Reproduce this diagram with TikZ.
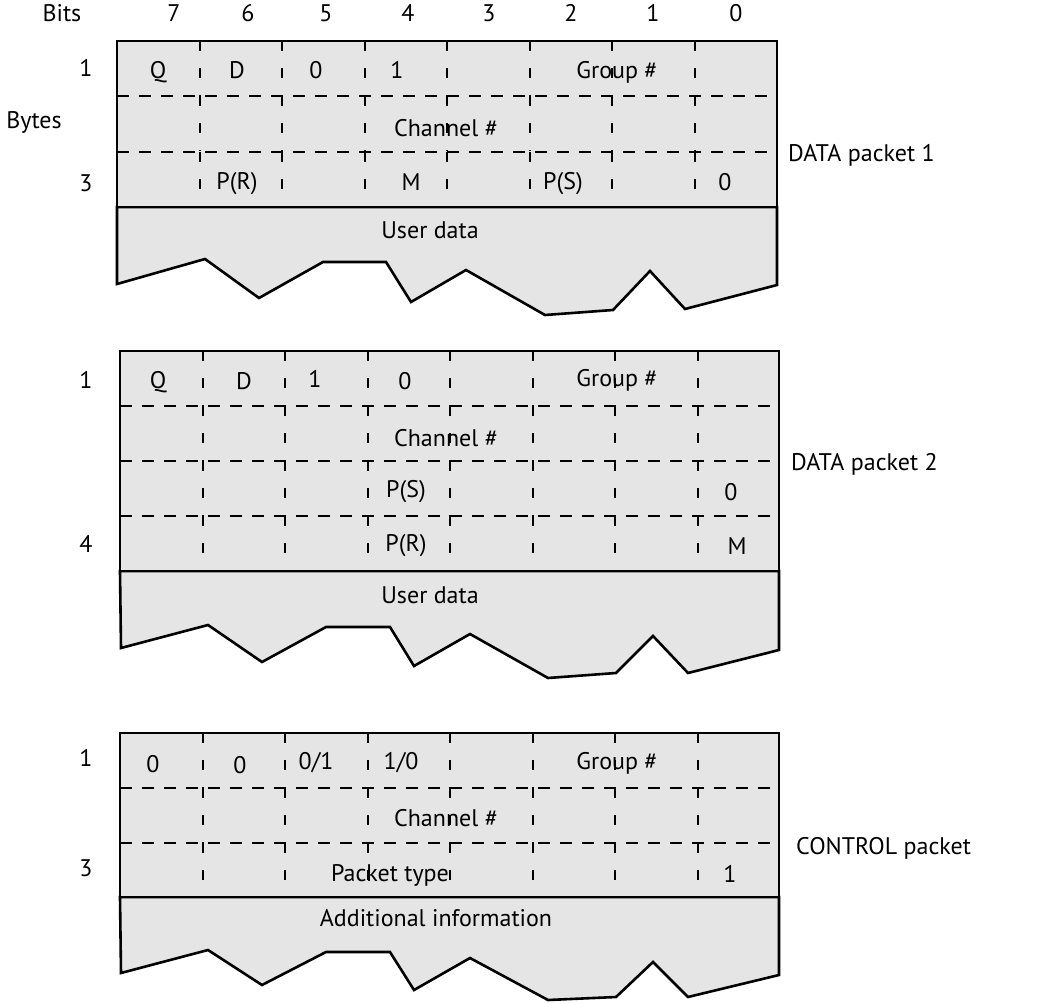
\documentclass[tikz,border=0pt]{standalone}
\usepackage{fontspec}
\setmainfont{PT Sans}
\begin{document}
\begin{tikzpicture}[x=1pt,y=-1pt,
  box/.style={line width=2.6pt,fill=black!10,line join=miter},
  hd/.style={line width=2.2pt,dash pattern=on 12pt off 10pt},
  vd/.style={line width=2pt,dash pattern=on 10pt off 17pt},
  lb/.style={font=\fontsize{24}{24}\selectfont,inner sep=0pt,anchor=center}]
\useasboundingbox (0,0) rectangle (1039,1004);
% ---------- packet 1
\draw[box] (117,207) -- (117,284) -- (205,259) -- (259,298) -- (323,262) -- (386,262) -- (411,302) -- (466,270) -- (545,315) -- (613,310) -- (650,271) -- (685,309) -- (777,285) -- (777,207) -- cycle;
\draw[box] (117,41) rectangle (777,207);
\foreach \y in {96,152} \draw[hd] (117,\y) -- (777,\y);
\foreach \x in {200,282,365,447,530,612,695} \foreach \t in {41,96,152} \draw[vd] (\x,\t) -- (\x,\t+55);
% ---------- packet 2
\draw[box] (120,571) -- (121,648) -- (208,625) -- (262,662) -- (326,627) -- (390,627) -- (414,666) -- (470,634) -- (548,678) -- (616,673) -- (653,636) -- (688,673) -- (779,650) -- (779,571) -- cycle;
\draw[box] (120,351) rectangle (779,571);
\foreach \y in {406,461,516} \draw[hd] (120,\y) -- (779,\y);
\foreach \x in {203,285,368,450,533,615,698} \foreach \t in {351,406,461,516} \draw[vd] (\x,\t) -- (\x,\t+55);
% ---------- packet 3
\draw[box] (120,897) -- (121,973) -- (208,950) -- (262,985) -- (326,952) -- (390,952) -- (414,990) -- (470,958) -- (548,1000) -- (616,997) -- (653,962) -- (688,997) -- (779,975) -- (779,897) -- cycle;
\draw[box] (120,733) rectangle (779,897);
\foreach \y in {788,843} \draw[hd] (120,\y) -- (779,\y);
\foreach \x in {203,285,368,450,533,615,698} \foreach \t in {733,788,843} \draw[vd] (\x,\t) -- (\x,\t+55);
% ---------- header
\node[lb] (bits) at (62,13) {Bits};
\foreach \n/\x in {7/174,6/248,5/326,4/408,3/489,2/571,1/653,0/736} \node[lb] (b\n) at (\x,13) {\n};
% packet 1 labels
\node[lb] (p1b1) at (86,68) {1};
\node[lb] (bytes) at (34,122) {Bytes};
\node[lb] (p1b3) at (86,183) {3};
\node[lb,anchor=west] (p1lab) at (788,155) {DATA packet 1};
\node[lb] (a1) at (158,72) {Q};
\node[lb] (a2) at (237,70) {D};
\node[lb] (a3) at (316,70) {0};
\node[lb] (a4) at (397,70) {1};
\node[lb] (a5) at (617,72) {Group \#};
\node[lb] (a6) at (446,128) {Channel \#};
\node[lb] (a7) at (237,184) {P(R)};
\node[lb] (a8) at (411,182) {M};
\node[lb] (a9) at (563,184) {P(S)};
\node[lb] (a10) at (725,182) {0};
\node[lb] (a11) at (430,230) {User data};
% packet 2 labels
\node[lb] (p2b1) at (86,380) {1};
\node[lb] (p2b4) at (86,544) {4};
\node[lb,anchor=west] (p2lab) at (791,464) {DATA packet 2};
\node[lb] (c1) at (158,382) {Q};
\node[lb] (c2) at (244,381) {D};
\node[lb] (c3) at (315,379) {1};
\node[lb] (c4) at (405,381) {0};
\node[lb] (c5) at (617,380) {Group \#};
\node[lb] (c6) at (446,438) {Channel \#};
\node[lb] (c7) at (406,492) {P(S)};
\node[lb] (c8) at (731,492) {0};
\node[lb] (c9) at (406,546) {P(R)};
\node[lb] (c10) at (737,546) {M};
\node[lb] (c11) at (430,595) {User data};
% packet 3 labels
\node[lb] (d1b1) at (86,758) {1};
\node[lb] (d1b3) at (86,868) {3};
\node[lb,anchor=west] (p3lab) at (796,848) {CONTROL packet};
\node[lb] (e1) at (153,764) {0};
\node[lb] (e2) at (240,765) {0};
\node[lb] (e3) at (316,763) {0/1};
\node[lb] (e4) at (401,763) {1/0};
\node[lb] (e5) at (617,763) {Group \#};
\node[lb] (e6) at (446,818) {Channel \#};
\node[lb] (e7) at (390,875) {Packet type};
\node[lb] (e8) at (730,874) {1};
\node[lb] (e9) at (436,918) {Additional information};
\end{tikzpicture}
\end{document}
